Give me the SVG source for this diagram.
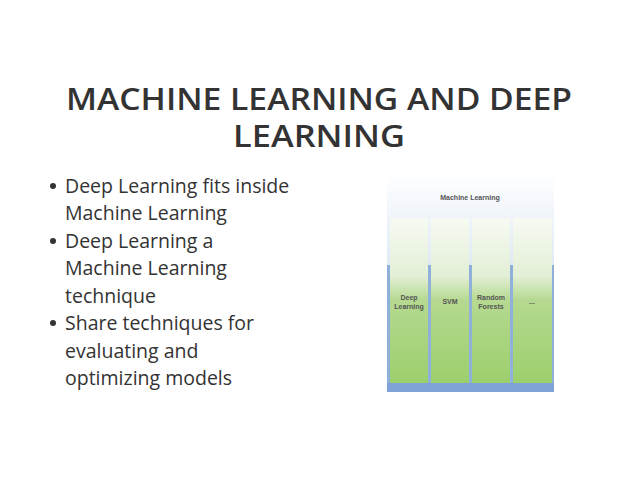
<svg xmlns="http://www.w3.org/2000/svg" width="638" height="493" viewBox="0 0 638 493">
<style>
.t{font-family:"Open Sans","Liberation Sans",sans-serif;fill:#333}
.h{font-size:30px;font-weight:600;text-anchor:middle}
.b{font-size:19.5px}
.d{font-family:"Liberation Sans",Arial,sans-serif;font-size:7px;font-weight:bold;fill:#555;text-anchor:middle}
</style>
<defs>
<linearGradient id="top" x1="0" y1="0" x2="0" y2="1"><stop offset="0" stop-color="#fdfeff"/><stop offset="1" stop-color="#dfe9f5"/></linearGradient>
<linearGradient id="col" x1="0" y1="0" x2="0" y2="1"><stop offset="0" stop-color="#f7faf3"/><stop offset="0.35" stop-color="#e3efd6"/><stop offset="0.5" stop-color="#b5d990"/><stop offset="1" stop-color="#9ccf6c"/></linearGradient>
</defs>
<rect width="638" height="493" fill="#fff"/>
<g id="title">
<text class="t h" x="319" y="110" textLength="506" lengthAdjust="spacingAndGlyphs">MACHINE LEARNING AND DEEP</text>
<text class="t h" x="319" y="147" textLength="172" lengthAdjust="spacingAndGlyphs">LEARNING</text>
</g>
<g id="bullets">
<circle cx="53" cy="186" r="3" fill="#333"/><circle cx="53" cy="241" r="3" fill="#333"/><circle cx="53" cy="323" r="3" fill="#333"/>
<text class="t b" x="65" y="193">Deep Learning fits inside</text>
<text class="t b" x="65" y="220">Machine Learning</text>
<text class="t b" x="65" y="248">Deep Learning a</text>
<text class="t b" x="65" y="275">Machine Learning</text>
<text class="t b" x="65" y="303">technique</text>
<text class="t b" x="65" y="330">Share techniques for</text>
<text class="t b" x="65" y="358">evaluating and</text>
<text class="t b" x="65" y="385">optimizing models</text>
</g>
<g id="ml">
<rect x="387" y="177" width="167" height="215" fill="#8fb0d8"/>
<rect x="387" y="177" width="167" height="88" fill="url(#top)"/>
<rect x="387" y="383" width="167" height="9" fill="#7fa3d6"/>
<text class="d" x="470" y="200">Machine Learning</text>
</g>
<g id="dl"><rect x="390" y="218" width="38" height="165" fill="url(#col)"/><text class="d" x="409" y="300">Deep</text><text class="d" x="409" y="309">Learning</text></g>
<g id="svm"><rect x="431" y="218" width="38" height="165" fill="url(#col)"/><text class="d" x="450" y="304">SVM</text></g>
<g id="rf"><rect x="472" y="218" width="38" height="165" fill="url(#col)"/><text class="d" x="491" y="300">Random</text><text class="d" x="491" y="309">Forests</text></g>
<g id="etc"><rect x="513" y="218" width="39" height="165" fill="url(#col)"/><text class="d" x="532" y="304">...</text></g>
<g id="connectors"/>
</svg>
